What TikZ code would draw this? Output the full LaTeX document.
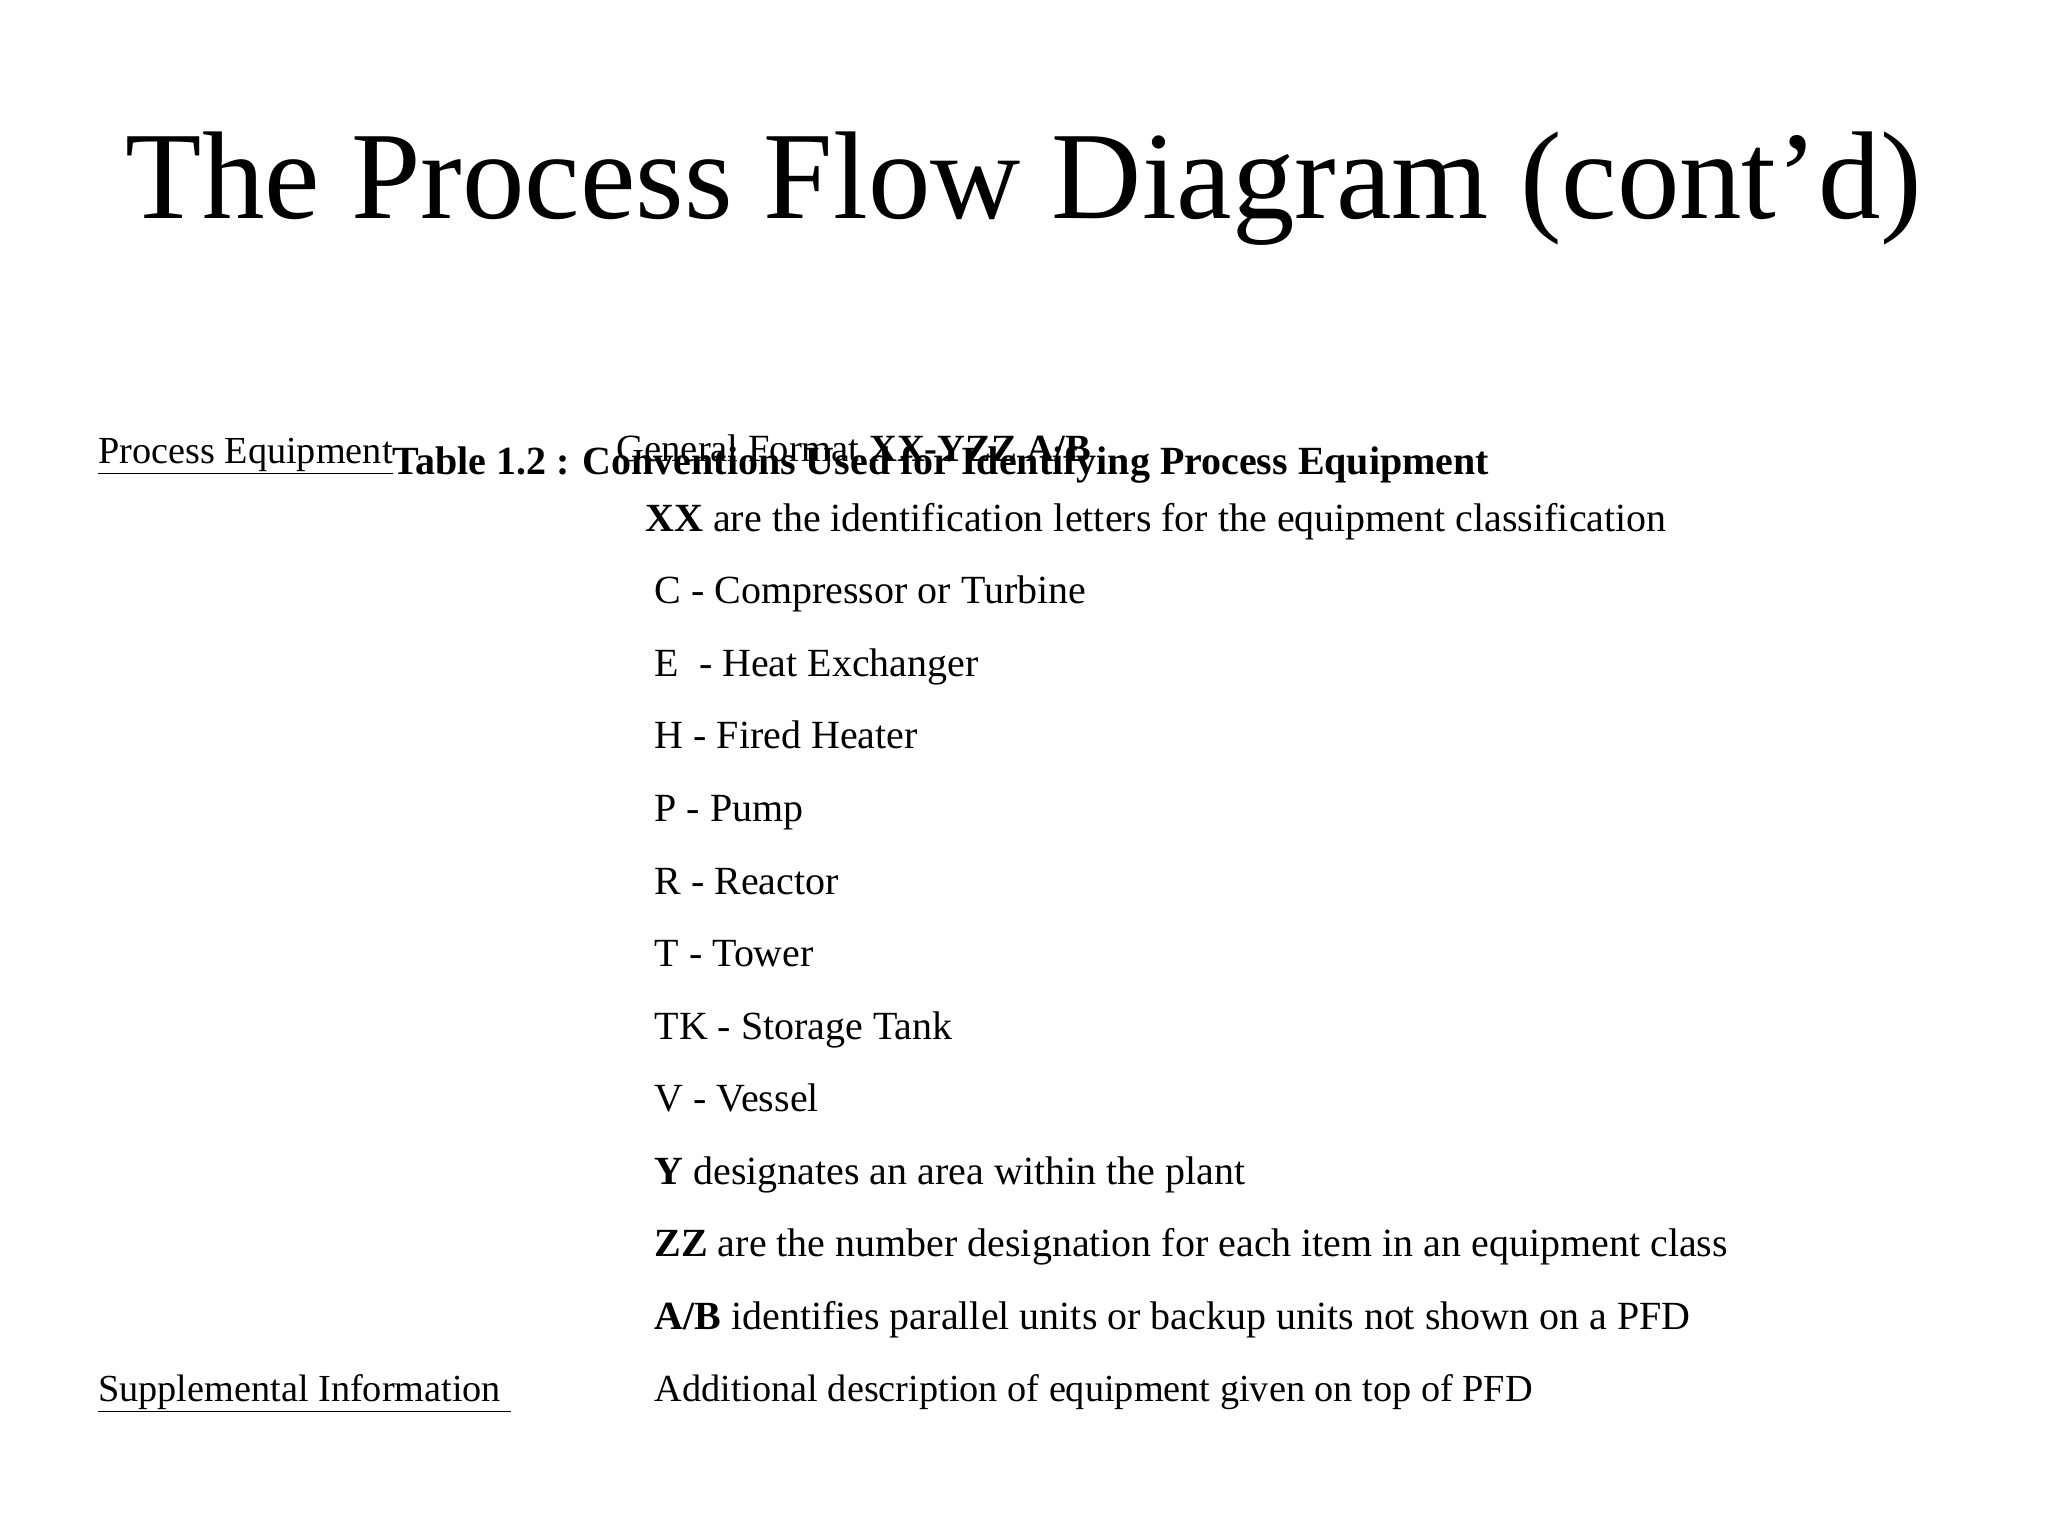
\documentclass[tikz,border=0pt]{standalone}
\usepackage{fontspec}
\setmainfont{Liberation Serif}
\begin{document}
\begin{tikzpicture}[x=1pt,y=-1pt,
  body/.style={anchor=base west,inner sep=0pt,font=\fontsize{30.6}{36}\selectfont},
  side/.style={anchor=base west,inner sep=0pt,font=\fontsize{29.3}{34}\selectfont}]
\useasboundingbox (0,0) rectangle (1568,1176);
\node[anchor=base,inner sep=0pt,font=\fontsize{95.6}{110}\selectfont] (title) at (784,167) {The Process Flow Diagram (cont’d)};
\node[side] (pe) at (75,355) {\underline{Process Equipment}};
\node[body,font=\fontsize{29.5}{34}\selectfont] (gf) at (472,353) {General Format \textbf{XX-YZZ A/B}};
\node[body] (tab) at (300,363) {\textbf{Table 1.2 : Conventions Used for Identifying Process Equipment}};
\node[body] (l1) at (494,407) {\textbf{XX} are the identification letters for the equipment classification};
\node[body] (l2) at (501,462) {C - Compressor or Turbine};
\node[body] (l3) at (501,518) {E\ \ - Heat Exchanger};
\node[body] (l4) at (501,573) {H - Fired Heater};
\node[body] (l5) at (501,629) {P - Pump};
\node[body] (l6) at (501,685) {R - Reactor};
\node[body] (l7) at (501,740) {T - Tower};
\node[body] (l8) at (501,796) {TK - Storage Tank};
\node[body] (l9) at (501,851) {V - Vessel};
\node[body] (l10) at (501,907) {\textbf{Y} designates an area within the plant};
\node[body] (l11) at (501,962) {\textbf{ZZ} are the number designation for each item in an equipment class};
\node[body] (l12) at (501,1018) {\textbf{A/B} identifies parallel units or backup units not shown on a PFD};
\node[side] (si) at (75,1073) {\underline{Supplemental Information\ }};
\node[side] (l13) at (501,1073) {Additional description of equipment given on top of PFD};
\end{tikzpicture}
\end{document}
